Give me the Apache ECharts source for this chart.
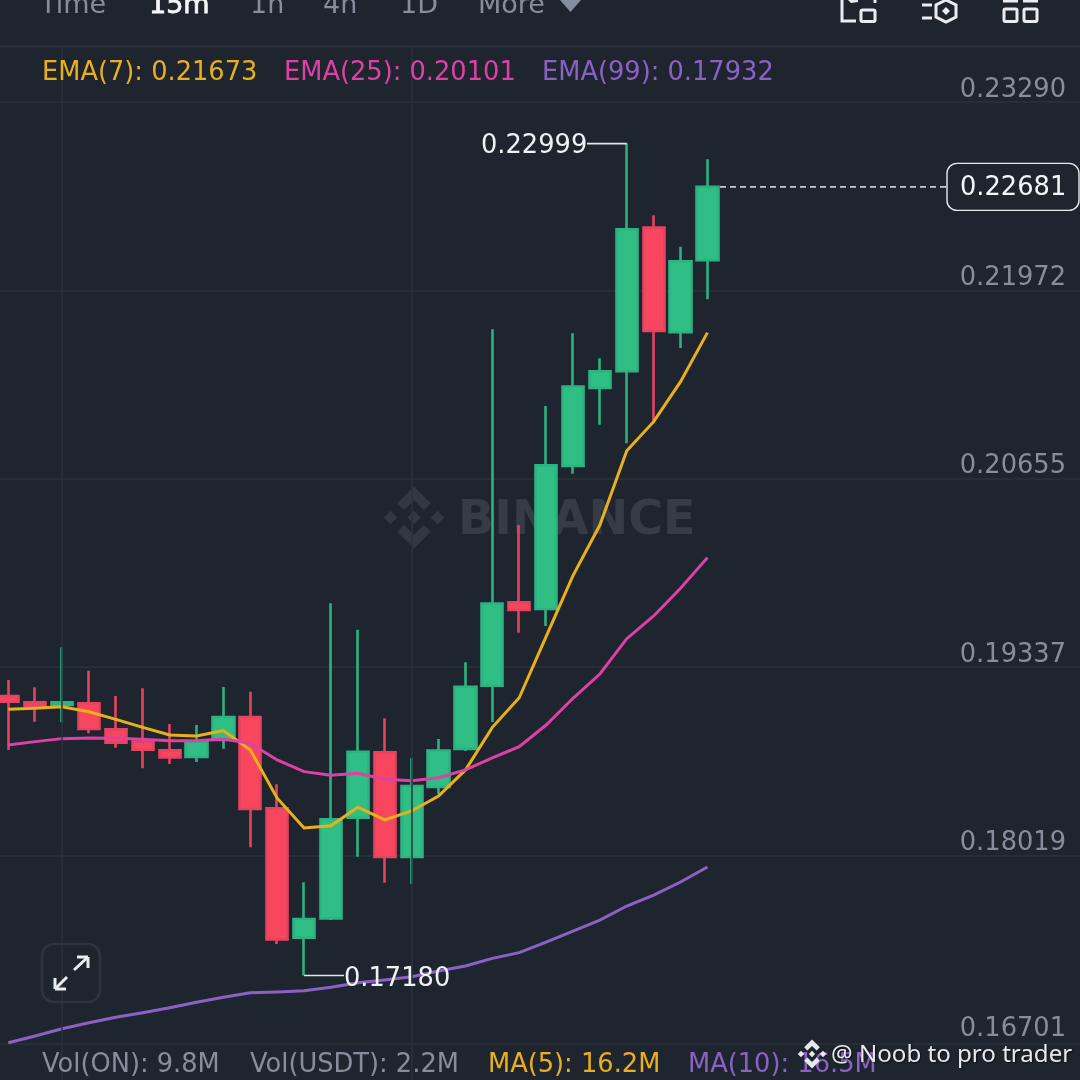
<!DOCTYPE html>
<html><head><meta charset="utf-8">
<style>html,body{margin:0;padding:0;background:#1F252F;overflow:hidden}#c{width:1080px;height:1080px}</style>
<script src="https://cdn.jsdelivr.net/npm/echarts@6/dist/echarts.min.js"></script>
</head><body><div id="c"></div>
<script>
const opens  = [.19135,.19091,.19072,.19084,.18902,.18816,.18755,.18709,.18827,.18988,.18350,.17445,.17580,.18284,.18741,.18009,.18499,.18765,.19207,.19791,.19744,.20744,.21290,.21407,.22411,.21679,.22183];
const closes = [.19095,.19067,.19091,.18904,.18809,.18760,.18706,.18816,.18988,.18345,.17433,.17575,.18273,.18744,.18009,.18506,.18753,.19200,.19781,.19737,.20749,.21299,.21407,.22400,.21688,.22176,.22696];
const lows   = [.18758,.18955,.18951,.18874,.18774,.18630,.18660,.18674,.18767,.18077,.17401,.17180,.17568,.18011,.17829,.17820,.18450,.18751,.18953,.19578,.19625,.20690,.21033,.20903,.21043,.21570,.21910];
const highs  = [.19247,.19196,.19476,.19312,.19135,.19189,.18939,.18932,.19198,.19165,.18518,.17832,.19784,.19599,.18979,.18699,.18834,.19371,.21700,.20331,.21164,.21672,.21498,.22999,.22498,.22278,.22889];
const ema7   = [.19042,.19049,.19060,.19025,.18972,.18916,.18862,.18855,.18893,.18758,.18420,.18212,.18228,.18357,.18268,.18331,.18436,.18618,.18916,.19123,.19550,.19977,.20331,.20851,.21054,.21334,.21677];
const ema25  = [.18793,.18816,.18837,.18841,.18839,.18832,.18823,.18823,.18834,.18804,.18688,.18606,.18581,.18595,.18553,.18543,.18564,.18618,.18702,.18781,.18932,.19119,.19289,.19536,.19695,.19889,.20103];
const ema99  = [.16710,.16757,.16808,.16850,.16888,.16920,.16955,.16993,.17028,.17060,.17065,.17074,.17098,.17130,.17149,.17172,.17212,.17247,.17300,.17340,.17414,.17491,.17568,.17666,.17743,.17834,.17939];
const tickLabels = ['0.16701','0.18019','0.19337','0.20655','0.21972','0.23290'];
const lastPriceText = '0.22681';
const highText = '0.22999';
const lowText = '0.17180';
const emaLegend = ['EMA(7): 0.21673','EMA(25): 0.20101','EMA(99): 0.17932'];
const toolbar = ['Time','15m','1h','4h','1D','More'];
const volLegend = ['Vol(ON): 9.8M','Vol(USDT): 2.2M','MA(5): 16.2M','MA(10): 16.5M'];
const verticalAt = [2,15];

const FONT='DejaVu Sans', BG='#1F252F', GRID='#2C323C', GREY='#848E9C';
const YEL='#E9B01C', PINK='#DD41A6', PUR='#8B61C4';
const chart = echarts.init(document.getElementById('c'),null,{renderer:'canvas'});
const step=26.89, x0=8.3;
const xMin=-x0/step, xMax=(1080-x0)/step;
const withIdx=a=>a.map((v,i)=>[i,v]);
const candleData = opens.map((o,i)=>[i,o,closes[i],lows[i],highs[i]]);
const lineS=(name,data,color)=>({name,type:'line',data:withIdx(data),xAxisIndex:0,yAxisIndex:0,symbol:'none',z:4,silent:true,
  lineStyle:{color,width:3,join:'miter'},itemStyle:{color}});
chart.setOption({
  animation:false, backgroundColor:BG,
  grid:[
    {left:0,right:0,top:102,height:942},
    {left:0,right:0,top:46,height:1034}
  ],
  xAxis:[
    {type:'value',gridIndex:0,min:xMin,max:xMax,axisLine:{show:false},axisTick:{show:false},axisLabel:{show:false},splitLine:{show:false}},
    {type:'value',gridIndex:1,min:xMin,max:xMax,position:'top',
     axisLine:{show:true,onZero:false,lineStyle:{color:'#292E38',width:2.5}},axisTick:{show:false},axisLabel:{show:false},splitLine:{show:false}}
  ],
  yAxis:[
    {type:'value',gridIndex:0,position:'right',min:+tickLabels[0],max:+tickLabels[5],interval:0.013178,scale:true,
     axisLine:{show:false},axisTick:{show:false},
     splitLine:{show:true,lineStyle:{color:GRID,width:1.5}},
     axisLabel:{inside:true,margin:14,color:GREY,fontFamily:FONT,fontSize:25.7,verticalAlign:'bottom',verticalAlignMinLabel:'bottom',verticalAlignMaxLabel:'bottom',lineHeight:22,padding:[0,0,1,0],
       showMinLabel:true,showMaxLabel:true,hideOverlap:false,
       rich:{low:{color:GREY,fontFamily:FONT,fontSize:25.7,lineHeight:22,padding:[0,0,5,0]}},
       formatter:(v)=>{const t=tickLabels.find(s=>Math.abs(+s-v)<2e-5);if(!t)return '';return t===tickLabels[0]?'{low|'+t+'}':t;}}},
    {type:'value',gridIndex:1,show:false,min:0,max:1}
  ],
  series:[
    {type:'line',xAxisIndex:1,yAxisIndex:1,data:[],silent:true,z:1,symbol:'none',
     markLine:{silent:true,symbol:'none',animation:false,label:{show:false},lineStyle:{color:GRID,width:1.5,type:'solid'},
       data:verticalAt.map(v=>({xAxis:v}))}},
    {type:'candlestick',name:'K',data:candleData,encode:{x:0,y:[1,2,3,4]},xAxisIndex:0,yAxisIndex:0,barWidth:21.7,z:2,silent:true,clip:false,
     itemStyle:{color:'#2FBF85',color0:'#F9465F',borderColor:'#2DB282',borderColor0:'#E64360',borderWidth:2.6}},
    lineS('EMA7',ema7,YEL),lineS('EMA25',ema25,PINK),lineS('EMA99',ema99,PUR)
  ]
});

const px=(i,v)=>chart.convertToPixel({xAxisIndex:0,yAxisIndex:0},[i,v]);
const txt=(text,x,y,fill,size,extra)=>({type:'text',z:100,silent:true,style:Object.assign({text,x,y,fill,fontSize:size||25.7,fontFamily:FONT,verticalAlign:'middle'},extra||{})});
const line=(x1,y1,x2,y2,stroke,w,dash)=>({type:'line',z:90,silent:true,shape:{x1,y1,x2,y2},style:{stroke,lineWidth:w,lineDash:dash||null,lineCap:'butt'}});
const poly=(pts,fill,z)=>({type:'polygon',z,silent:true,shape:{points:pts},style:{fill}});
const logo=(cx,cy,r,fill,z)=>{
  const P=a=>a.map(p=>[cx+p[0]*r,cy+p[1]*r]);
  const dia=(x,y,s)=>[[x,y-s],[x+s,y],[x,y+s],[x-s,y]];
  const top=[[0,-1],[.54,-.46],[.32,-.24],[0,-.56],[-.32,-.24],[-.54,-.46]];
  const bot=top.map(p=>[p[0],-p[1]]);
  return [dia(0,0,.22),dia(.76,0,.22),dia(-.76,0,.22),top,bot].map(a=>poly(P(a),fill,z));
};
const W='#EAECEF';
const hi=px(23,highs[23]), lo=px(11,lows[11]), last=px(26,closes[26]);
const els=[];
// watermark
els.push(...logo(414,517.5,31,'#323841',1));
els.push({type:'text',z:1,silent:true,style:{text:'BINANCE',x:458,y:522,fill:'#363C46',fontSize:47.5,fontWeight:700,fontFamily:FONT,verticalAlign:'middle'}});
// toolbar
const tbX=[40,149,250,323,400,478];
toolbar.forEach((t,i)=>els.push(txt(t,tbX[i],6,i==1?'#F5F6F7':GREY,27,i==1?{stroke:'#F5F6F7',lineWidth:0.8}:{})));
els.push(poly([[560,0],[581,0],[570.5,12]],GREY,100));
const rectS=(x,y,w,h)=>({type:'rect',z:100,silent:true,shape:{x,y,width:w,height:h,r:1.5},style:{fill:'none',stroke:W,lineWidth:3}});
// icon 1
els.push({type:'polyline',z:100,silent:true,shape:{points:[[842,-2],[842,21],[856,21]]},style:{fill:'none',stroke:W,lineWidth:3}});
els.push(rectS(861,10,14,11.5),line(875,-1,875,3,W,3),poly([[848,0],[858,0],[858,2],[851,3]],W,100));
// icon 2
els.push(line(922,5,932,5,W,3),line(922,18,932,18,W,3));
els.push({type:'polygon',z:100,silent:true,shape:{points:[[946,0],[956,5],[956,17],[946,22],[936,17],[936,5]]},style:{fill:'none',stroke:W,lineWidth:3}});
els.push(poly([[946,7],[950,11],[946,15],[942,11]],W,100));
// icon 3
els.push(rectS(1004,9,13,12.5),rectS(1024,9,13,12.5),line(1003,1,1018,1,W,3),line(1023,1,1038,1,W,3));
// legend row
[[42,YEL],[284,PINK],[542,PUR]].forEach((a,i)=>els.push(txt(emaLegend[i],a[0],73,a[1])));
// high / low annotation
els.push(line(587,hi[1],hi[0],hi[1],'#E4E6E9',1.6));
els.push(txt(highText,481,hi[1]+3,'#F0F1F3'));
els.push(line(lo[0],lo[1],344,lo[1],'#E4E6E9',1.6));
els.push(txt(lowText,344,lo[1]+4,'#F0F1F3'));
// last price
els.push(line(720,last[1],947,last[1],'#C7CBD1',1.6,[6,4]));
els.push({type:'rect',z:95,silent:true,shape:{x:947,y:last[1]-23.5,width:132,height:47,r:10},style:{fill:BG,stroke:'#E8EAED',lineWidth:1.4}});
els.push(txt(lastPriceText,960,last[1]+1,'#F5F6F7'));
// fullscreen button
els.push({type:'rect',z:100,silent:true,shape:{x:42,y:944,width:58,height:58,r:12},style:{fill:'none',stroke:'#2E343E',lineWidth:2.6}});
els.push(line(74,970,88,957,W,3),line(77,957,88,957,W,3),line(88,957,88,968,W,3));
els.push(line(55,989,67,977,W,3),line(55,978,55,989,W,3),line(55,989,66,989,W,3));
// volume row
[[42,GREY],[250,GREY],[488,YEL],[688,PUR]].forEach((a,i)=>els.push(txt(volLegend[i],a[0],1065,a[1])));
// author overlay
els.push(...logo(812,1054,14.5,'#E6E8EB',101));
els.push(txt('@ Noob to pro trader',831,1055,'#E6E8EB',24.1,{fontFamily:'Noto Sans',textShadowColor:'rgba(0,0,0,.6)',textShadowBlur:2,textShadowOffsetX:1,textShadowOffsetY:1}));
chart.setOption({graphic:{elements:els}});
</script></body></html>
